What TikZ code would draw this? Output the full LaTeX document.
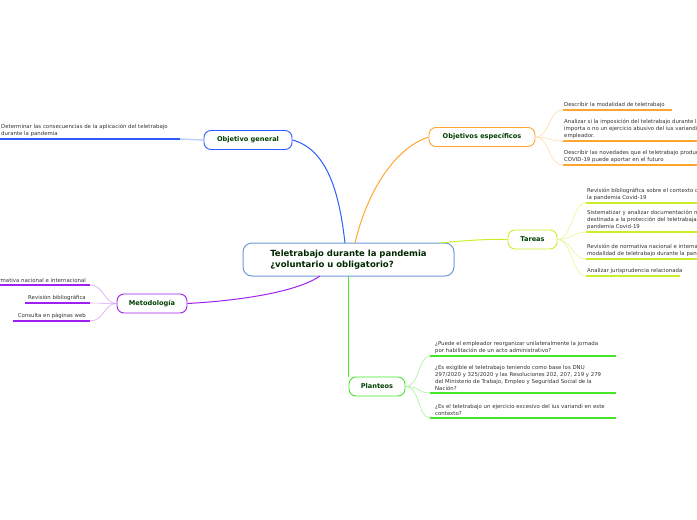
\documentclass[tikz,border=0pt]{standalone}
\usepackage{fontspec}
\setmainfont{DejaVu Sans}
\begin{document}
\begin{tikzpicture}[x=1pt,y=-1pt,
  leaf/.style={anchor=south west,inner sep=1pt,font=\fontsize{5.4}{7}\selectfont,align=left,text=black!80},
  leafr/.style={anchor=south east,inner sep=1pt,font=\fontsize{5.4}{7}\selectfont,align=right,text=black!80},
  topic/.style={draw,line width=0.9pt,rounded corners=7pt,minimum height=19pt,font=\fontsize{6.6}{8}\selectfont\bfseries,text=green!25!black,fill=white},
  conn/.style={line width=0.6pt}]
\useasboundingbox (0,0) rectangle (697,520);
\definecolor{cblue}{HTML}{2E5BFF}
\definecolor{corange}{HTML}{FFA630}
\definecolor{cyel}{HTML}{C8F02A}
\definecolor{cpur}{HTML}{A020F0}
\definecolor{cgreen}{HTML}{46E62A}
% central
\node[draw=cyan!50!blue!60,line width=1pt,rounded corners=9pt,minimum width=211pt,minimum height=33pt,font=\fontsize{8.5}{10.5}\selectfont\bfseries,align=left,text=green!15!black] (c) at (348.5,259.5) {Teletrabajo durante la pandemia\\¿voluntario u obligatorio?};
% topic nodes
\node[topic,draw=cblue,minimum width=88pt] (og) at (248,140) {Objetivo general};
\node[topic,draw=corange,minimum width=106pt] (oe) at (482,137) {Objetivos específicos};
\node[topic,draw=cyel,minimum width=49pt] (ta) at (532.5,239.5) {Tareas};
\node[topic,draw=cpur,minimum width=70pt] (me) at (152,303.5) {Metodología};
\node[topic,draw=cgreen,minimum width=56pt] (pl) at (377,386.5) {Planteos};
% central connectors
\draw[cblue,line width=1pt] (og.east) .. controls (330,150) and (340,200) .. (345,243);
\draw[corange,line width=1pt] (oe.west) .. controls (390,150) and (365,200) .. (355,243);
\draw[cyel,line width=1pt] (440,243) .. controls (470,240) and (490,239) .. (ta.west);
\draw[cpur,line width=1pt] (me.east) .. controls (250,300) and (300,290) .. (320,276);
\draw[cgreen,line width=1pt] (348,276) -- (pl.north -| 348,0);
% Objetivo general leaf
\coordinate (og1) at (180,139);
\draw[cblue!30,line width=1.5pt] (og.west) -- (og1);
\draw[cblue,line width=1.5pt] (og1) -- (0,139);
\node[leaf] (t0) at (0,138) {Determinar las consecuencias de la aplicación del teletrabajo\\durante la pandemia};
% Objetivos especificos
\foreach \y/\xe [count=\i] in {110/672,141/697,165/697}{
  \coordinate (oa\i) at (563,\y);
  \draw[corange!40,conn] (oe.east) .. controls (550,137) and (548,\y) .. (oa\i);
  \draw[corange,line width=1.5pt] (oa\i) -- (\xe,\y);
}
\node[leaf] at (563,109) {Describir la modalidad de teletrabajo};
\node[leaf] at (563,140) {Analizar si la imposición del teletrabajo durante la pandemia\\importa o no un ejercicio abusivo del ius variandi por parte del\\empleador.};
\node[leaf] at (563,164) {Describir las novedades que el teletrabajo produce en el contexto de\\COVID-19 puede aportar en el futuro};
% Tareas
\foreach \y/\xe [count=\i] in {203/697,232/697,259/697,276/680}{
  \coordinate (tb\i) at (586,\y);
  \draw[cyel!50,conn] (ta.east) .. controls (572,239.5) and (572,\y) .. (tb\i);
  \draw[cyel,line width=1.5pt] (tb\i) -- (\xe,\y);
}
\node[leaf] at (586,202) {Revisión bibliográfica sobre el contexto de teletrabajo durante\\la pandemia Covid-19};
\node[leaf] at (586,231) {Sistematizar y analizar documentación normativa nacional\\destinada a la protección del teletrabajador durante la\\pandemia Covid-19};
\node[leaf] at (586,258) {Revisión de normativa nacional e internacional sobre la\\modalidad de teletrabajo durante la pandemia};
\node[leaf] at (586,275) {Analizar jurisprudencia relacionada};
% Metodologia
\foreach \y/\xs [count=\i] in {285/0,303/25,321/13}{
  \coordinate (mc\i) at (90,\y);
  \draw[cpur!40,conn] (me.west) .. controls (104,303.5) and (104,\y) .. (mc\i);
  \draw[cpur,line width=1.5pt] (mc\i) -- (\xs,\y);
}
\node[leafr] at (87,284) {Revisión de normativa nacional e internacional};
\node[leafr] at (87,302) {Revisión bibliográfica};
\node[leafr] at (87,320) {Consulta en páginas web};
% Planteos
\foreach \y [count=\i] in {356,393,418}{
  \coordinate (pd\i) at (430,\y);
  \draw[cgreen!50,conn] (pl.east) .. controls (420,386.5) and (418,\y) .. (pd\i);
  \draw[cgreen,line width=1.5pt] (pd\i) -- (616,\y);
}
\node[leaf] at (434,355) {¿Puede el empleador reorganizar unilateralmente la jornada\\por habilitación de un acto administrativo?};
\node[leaf] at (434,392) {¿Es exigible el teletrabajo teniendo como base los DNU\\297/2020 y 325/2020  y las Resoluciones 202, 207, 219 y 279\\del Ministerio de Trabajo, Empleo y Seguridad Social de la\\Nación?};
\node[leaf] at (434,417) {¿Es el teletrabajo un ejercicio excesivo del ius variandi en este\\contexto?};
\end{tikzpicture}
\end{document}
